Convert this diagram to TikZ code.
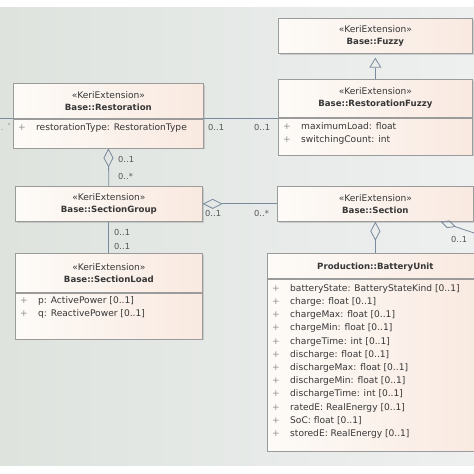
\documentclass[tikz,border=0pt]{standalone}
\usepackage{fontspec}
\setmainfont{DejaVu Sans}
\usetikzlibrary{arrows.meta,positioning,shadows}

\definecolor{umlline}{RGB}{122,138,158}
\definecolor{umltext}{RGB}{55,55,55}
\definecolor{boxleft}{RGB}{253,251,248}
\definecolor{boxright}{RGB}{249,233,224}
\definecolor{boxdraw}{RGB}{155,155,155}
\definecolor{bgleft}{RGB}{222,227,222}
\definecolor{bgright}{RGB}{238,240,240}
\definecolor{multtext}{RGB}{85,85,85}

\tikzset{
  umlfont/.style={font=\fontsize{9.1}{13.2}\selectfont, text=umltext},
  compart/.style={draw=boxdraw, line width=0.7pt, left color=boxleft, right color=boxright,
    anchor=north west, inner sep=0pt,
    drop shadow={shadow xshift=1.2pt, shadow yshift=-1.2pt, opacity=0.3}},
  heading/.style={font=\fontsize{9.1}{12}\selectfont, text=umltext, align=center},
  attrlist/.style={umlfont, align=left, anchor=north west, inner sep=0pt},
  mult/.style={font=\fontsize{8.3}{9}\selectfont, text=multtext, inner sep=0pt, anchor=west},
  assoc/.style={draw=umlline, line width=0.8pt},
}

\newcommand{\stereo}[1]{«#1»}
\newcommand{\ctitle}[1]{{\fontsize{8.6}{12}\selectfont\bfseries #1}}
\newcommand{\attr}[1]{\rule[-3.6pt]{0pt}{8.6pt}\makebox[18pt][l]{\textcolor{umltext!55}{+}}#1}

\begin{document}
\begin{tikzpicture}[x=1pt,y=-1pt]
  \useasboundingbox (0,0) rectangle (474,474);
  \clip (0,0) rectangle (474,474);

  % Background
  \fill[white] (0,0) rectangle (474,474);
  \shade[left color=bgleft, right color=bgright] (0,7) rectangle (474,465);

  % Base::Fuzzy
  \node[compart, minimum width=194, minimum height=35] (fuzzy) at (278,18) {};
  \node[heading] at (fuzzy.center) {\stereo{KeriExtension}\\\ctitle{Base::Fuzzy}};

  % Base::RestorationFuzzy
  \node[compart, minimum width=194, minimum height=38] (restfuzzy) at (278,79) {};
  \node[heading] at (restfuzzy.center) {\stereo{KeriExtension}\\\ctitle{Base::RestorationFuzzy}};
  \node[compart, minimum width=194, minimum height=37] (restfuzzy-attr) at (restfuzzy.south west) {};
  \node[attrlist] at ([xshift=5pt,yshift=-4.5pt]restfuzzy-attr.north west)
    {\attr{maximumLoad: float}\\\attr{switchingCount: int}};

  % Base::Restoration
  \node[compart, minimum width=190, minimum height=35] (restoration) at (13,83) {};
  \node[heading] at (restoration.center) {\stereo{KeriExtension}\\\ctitle{Base::Restoration}};
  \node[compart, minimum width=190, minimum height=29] (restoration-attr) at (restoration.south west) {};
  \node[attrlist] at ([xshift=5pt,yshift=-5pt]restoration-attr.north west)
    {\attr{restorationType: RestorationType}};

  % Base::SectionGroup
  \node[compart, minimum width=187, minimum height=35] (sgroup) at (15,186) {};
  \node[heading] at (sgroup.center) {\stereo{KeriExtension}\\\ctitle{Base::SectionGroup}};

  % Base::SectionLoad
  \node[compart, minimum width=187, minimum height=39] (sload) at (15,253) {};
  \node[heading] at (sload.center) {\stereo{KeriExtension}\\\ctitle{Base::SectionLoad}};
  \node[compart, minimum width=187, minimum height=46] (sload-attr) at (sload.south west) {};
  \node[attrlist] at ([xshift=5pt,yshift=-3.5pt]sload-attr.north west)
    {\attr{p: ActivePower [0..1]}\\\attr{q: ReactivePower [0..1]}};

  % Base::Section
  \node[compart, minimum width=196, minimum height=35] (section) at (277,186) {};
  \node[heading] at (section.center) {\stereo{KeriExtension}\\\ctitle{Base::Section}};

  % Production::BatteryUnit
  \node[compart, minimum width=216, minimum height=25] (battery) at (267,253) {};
  \node[heading] at ([yshift=-1.5pt]battery.center) {\ctitle{Production::BatteryUnit}};
  \node[compart, minimum width=216, minimum height=172] (battery-attr) at (battery.south west) {};
  \node[attrlist] at ([xshift=5pt,yshift=-5.5pt]battery-attr.north west)
    {\attr{batteryState: BatteryStateKind [0..1]}\\
     \attr{charge: float [0..1]}\\
     \attr{chargeMax: float [0..1]}\\
     \attr{chargeMin: float [0..1]}\\
     \attr{chargeTime: int [0..1]}\\
     \attr{discharge: float [0..1]}\\
     \attr{dischargeMax: float [0..1]}\\
     \attr{dischargeMin: float [0..1]}\\
     \attr{dischargeTime: int [0..1]}\\
     \attr{ratedE: RealEnergy [0..1]}\\
     \attr{SoC: float [0..1]}\\
     \attr{storedE: RealEnergy [0..1]}};

  % Connectors
  \coordinate (leftend) at (0,118);
  \coordinate (rightend) at (474,233);
  \draw[assoc] (leftend) -- (leftend -| restoration-attr.west);
  \draw[assoc, -{Triangle[open, length=10pt, width=12pt]}, shorten >=4pt]
    (restfuzzy.north) -- (fuzzy.south);
  \draw[assoc] (restoration-attr.north east) -- (restoration-attr.north east -| restfuzzy-attr.west);
  \draw[assoc, -{Diamond[open, length=19pt, width=10pt]}] (sgroup.north) -- (restoration-attr.south);
  \draw[assoc] (sgroup.south) -- (sload.north);
  \draw[assoc, -{Diamond[open, length=20pt, width=10pt]}] (section.west) -- (sgroup.east);
  \draw[assoc, -{Diamond[open, length=19pt, width=10pt]}] (battery.north) -- (section.south);
  \draw[assoc, -{Diamond[open, length=16pt, width=8pt]}] (rightend) -- ([xshift=-33pt]section.south east);

  % Multiplicities
  \node[mult, font=\fontsize{4}{4}\selectfont] (m0a) at (1,130) {..};
  \node[mult, font=\fontsize{4}{4}\selectfont] (m0b) at (8,125) {*};
  \node[mult] (m1) at (208,127) {0..1};
  \node[mult] (m2) at (254,127) {0..1};
  \node[mult] (m3) at (118,159) {0..1};
  \node[mult] (m4) at (118,176) {0..*};
  \node[mult] (m5) at (114,232) {0..1};
  \node[mult] (m6) at (114,246) {0..1};
  \node[mult] (m7) at (205,213) {0..1};
  \node[mult] (m8) at (254,213) {0..*};
  \node[mult] (m9) at (451,239) {0..1};
\end{tikzpicture}
\end{document}
